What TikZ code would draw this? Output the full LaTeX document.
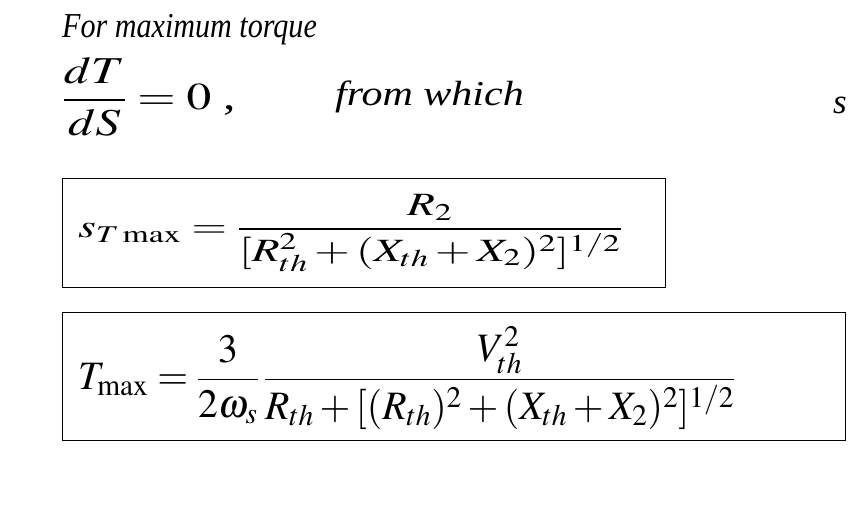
\documentclass[tikz,border=0pt]{standalone}
\usepackage{amsmath}
\usepackage{graphicx}
\usepackage{mathptmx}
\usepackage[no-math]{fontspec}
\setmainfont{Liberation Serif}
\begin{document}
\begin{tikzpicture}[x=1pt,y=-1pt,every node/.style={inner sep=0pt,anchor=west},
  bx/.style={draw,line width=1pt}]
\useasboundingbox (0,0) rectangle (856,511);
\node (t1) at (62,30) {\fontsize{35}{40}\selectfont\scalebox{0.86}[1]{\itshape For maximum torque}};
\node (e1) at (62,97) {\fontsize{38}{44}\selectfont\scalebox{1.3}[1]{$\dfrac{dT}{dS}=0$\ ,}};
\node (t2) at (335,97) {\fontsize{35}{40}\selectfont\scalebox{1.2}[1]{\itshape from which}};
\node (t3) at (833,105) {\fontsize{35}{40}\selectfont\itshape s};
\draw[bx] (62,178) rectangle (665,287);
\node (e2) at (78,233) {\fontsize{26}{30}\selectfont\scalebox{1.75}[1.25]{$s_{T\max}=\dfrac{R_2}{[R_{th}^2+(X_{th}+X_2)^2]^{1/2}}$}};
\draw[bx] (62,312) rectangle (845,440);
\node (e3) at (78,378) {\fontsize{31}{36}\selectfont\scalebox{1.28}[1.3]{$T_{\max}=\dfrac{3}{2\omega_s}\,\dfrac{V_{th}^2}{R_{th}+[(R_{th})^2+(X_{th}+X_2)^2]^{1/2}}$}};
\end{tikzpicture}
\end{document}
